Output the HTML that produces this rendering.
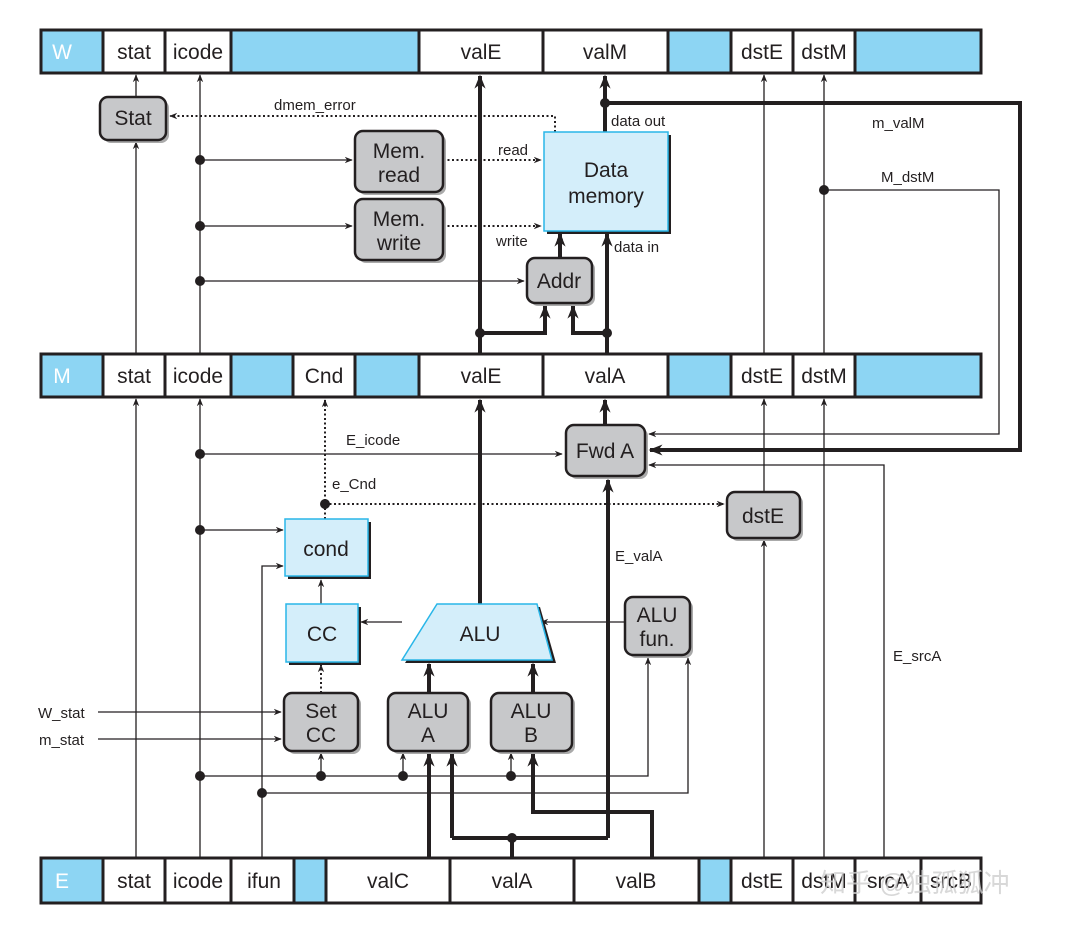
<!DOCTYPE html>
<html><head><meta charset="utf-8"><style>
body{margin:0;background:#fff}
svg text{font-family:"Liberation Sans",Arial,sans-serif;fill:#231f20}
</style></head><body>
<svg width="1084" height="926" viewBox="0 0 1084 926" xmlns="http://www.w3.org/2000/svg">
<defs>
<marker id="a" viewBox="0 0 10 10" refX="9" refY="5" markerWidth="8" markerHeight="8" markerUnits="userSpaceOnUse" orient="auto"><path d="M0,1 L10,5 L0,9 L3,5z" fill="#231f20"/></marker>
<marker id="b" viewBox="0 0 10 10" refX="9" refY="5" markerWidth="14" markerHeight="14" markerUnits="userSpaceOnUse" orient="auto"><path d="M0,1 L10,5 L0,9 L3,5z" fill="#231f20"/></marker>
</defs>
<g stroke="#231f20" stroke-width="3">
<!-- W register -->
<rect x="41" y="30" width="62" height="43" fill="#8dd5f3"/>
<rect x="103" y="30" width="62" height="43" fill="#fff"/>
<rect x="165" y="30" width="66" height="43" fill="#fff"/>
<rect x="231" y="30" width="188" height="43" fill="#8dd5f3"/>
<rect x="419" y="30" width="124" height="43" fill="#fff"/>
<rect x="543" y="30" width="125" height="43" fill="#fff"/>
<rect x="668" y="30" width="63" height="43" fill="#8dd5f3"/>
<rect x="731" y="30" width="62" height="43" fill="#fff"/>
<rect x="793" y="30" width="62" height="43" fill="#fff"/>
<rect x="855" y="30" width="126" height="43" fill="#8dd5f3"/>
<!-- M register -->
<rect x="41" y="354" width="62" height="43" fill="#8dd5f3"/>
<rect x="103" y="354" width="62" height="43" fill="#fff"/>
<rect x="165" y="354" width="66" height="43" fill="#fff"/>
<rect x="231" y="354" width="62" height="43" fill="#8dd5f3"/>
<rect x="293" y="354" width="62" height="43" fill="#fff"/>
<rect x="355" y="354" width="64" height="43" fill="#8dd5f3"/>
<rect x="419" y="354" width="124" height="43" fill="#fff"/>
<rect x="543" y="354" width="125" height="43" fill="#fff"/>
<rect x="668" y="354" width="63" height="43" fill="#8dd5f3"/>
<rect x="731" y="354" width="62" height="43" fill="#fff"/>
<rect x="793" y="354" width="62" height="43" fill="#fff"/>
<rect x="855" y="354" width="126" height="43" fill="#8dd5f3"/>
<!-- E register -->
<rect x="41" y="858" width="62" height="45" fill="#8dd5f3"/>
<rect x="103" y="858" width="62" height="45" fill="#fff"/>
<rect x="165" y="858" width="66" height="45" fill="#fff"/>
<rect x="231" y="858" width="63" height="45" fill="#fff"/>
<rect x="294" y="858" width="32" height="45" fill="#8dd5f3"/>
<rect x="326" y="858" width="124" height="45" fill="#fff"/>
<rect x="450" y="858" width="124" height="45" fill="#fff"/>
<rect x="574" y="858" width="125" height="45" fill="#fff"/>
<rect x="699" y="858" width="32" height="45" fill="#8dd5f3"/>
<rect x="731" y="858" width="62" height="45" fill="#fff"/>
<rect x="793" y="858" width="62" height="45" fill="#fff"/>
<rect x="855" y="858" width="66" height="45" fill="#fff"/>
<rect x="921" y="858" width="60" height="45" fill="#fff"/>
</g>
<g font-size="21" text-anchor="middle">
<text x="62" y="59" fill="#fff" style="fill:#fff">W</text><text x="134" y="59">stat</text><text x="198" y="59">icode</text><text x="481" y="59">valE</text><text x="605" y="59">valM</text><text x="762" y="59">dstE</text><text x="824" y="59">dstM</text>
<text x="62" y="383" style="fill:#fff">M</text><text x="134" y="383">stat</text><text x="198" y="383">icode</text><text x="324" y="383">Cnd</text><text x="481" y="383">valE</text><text x="605" y="383">valA</text><text x="762" y="383">dstE</text><text x="824" y="383">dstM</text>
<text x="62" y="888" style="fill:#fff">E</text><text x="134" y="888">stat</text><text x="198" y="888">icode</text><text x="264" y="888">ifun</text><text x="388" y="888">valC</text><text x="512" y="888">valA</text><text x="636" y="888">valB</text><text x="762" y="888">dstE</text><text x="824" y="888">dstM</text><text x="888" y="888">srcA</text><text x="951" y="888">srcB</text>
</g>
<!-- thin lines -->
<g stroke="#231f20" stroke-width="1.3" fill="none" marker-end="url(#a)">
<path d="M136,97 V75"/><path d="M136,354 V142"/><path d="M200,354 V75"/>
<path d="M200,160 H352"/><path d="M200,226 H352"/><path d="M200,281 H524"/>
<path d="M764,354 V75"/><path d="M824,354 V75"/>
<path d="M824,190 H999 V434 H649"/>
<path d="M136,858 V399"/><path d="M200,858 V399"/>
<path d="M200,454 H562"/><path d="M200,530 H283"/>
<path d="M262,858 V566 H283"/>
<path d="M764,858 V540"/><path d="M764,492 V399"/><path d="M824,858 V399"/>
<path d="M884,858 V465 H649"/>
<path d="M200,776 H648 V658"/><path d="M262,793 H688 V658"/>
<path d="M321,776 V753"/><path d="M403,776 V753"/><path d="M511,776 V753"/>
<path d="M98,712 H281"/><path d="M98,739 H281"/>
<path d="M321,604 V580"/><path d="M402,622 H361"/><path d="M625,622 H541"/>
<path d="M560,258 V233"/>
</g>
<!-- dotted -->
<g stroke="#231f20" stroke-width="2" fill="none" stroke-dasharray="2,2.5">
<path d="M555,132 V116 H170" marker-end="url(#a)"/>
<path d="M443,160 H541" marker-end="url(#a)"/>
<path d="M443,226 H541" marker-end="url(#a)"/>
<path d="M325,519 V400" marker-end="url(#a)"/>
<path d="M325,504 H724" marker-end="url(#a)"/>
<path d="M321,693 V665" marker-end="url(#a)"/>
</g>
<!-- thick lines -->
<g stroke="#231f20" stroke-width="4" fill="none">
<path d="M480,354 V76" marker-end="url(#b)"/>
<path d="M480,333 H545 V306" marker-end="url(#b)"/>
<path d="M607,354 V234" marker-end="url(#b)"/>
<path d="M607,333 H573 V306" marker-end="url(#b)"/>
<path d="M560,260 V234" marker-end="url(#b)"/>
<path d="M605,132 V76" marker-end="url(#b)"/>
<path d="M605,103 H1020 V450 H650" marker-end="url(#b)"/>
<path d="M605,425 V400" marker-end="url(#b)"/>
<path d="M480,604 V400" marker-end="url(#b)"/>
<path d="M512,858 V838 M452,838 H608"/>
<path d="M608,838 V480" marker-end="url(#b)"/>
<path d="M452,838 V754" marker-end="url(#b)"/>
<path d="M429,858 V754" marker-end="url(#b)"/>
<path d="M652,858 V812 H533 V754" marker-end="url(#b)"/>
<path d="M429,693 V664" marker-end="url(#b)"/>
<path d="M533,693 V664" marker-end="url(#b)"/>
</g>
<!-- dots -->
<g fill="#231f20">
<circle cx="200" cy="160" r="5"/><circle cx="200" cy="226" r="5"/><circle cx="200" cy="281" r="5"/>
<circle cx="480" cy="333" r="5"/><circle cx="607" cy="333" r="5"/><circle cx="605" cy="103" r="5"/>
<circle cx="824" cy="190" r="5"/><circle cx="200" cy="454" r="5"/><circle cx="200" cy="530" r="5"/>
<circle cx="325" cy="504" r="5"/><circle cx="200" cy="776" r="5"/><circle cx="321" cy="776" r="5"/>
<circle cx="403" cy="776" r="5"/><circle cx="511" cy="776" r="5"/><circle cx="262" cy="793" r="5"/>
<circle cx="512" cy="838" r="5"/>
</g>
<!-- gray boxes -->
<g stroke="#231f20" stroke-width="2.5" fill="#c7c8ca">
<rect x="103" y="100" width="66" height="43" rx="8" fill="#aaa" stroke="none"/>
<rect x="100" y="97" width="66" height="43" rx="8"/>
<rect x="358" y="134" width="88" height="61" rx="8" fill="#aaa" stroke="none"/>
<rect x="355" y="131" width="88" height="61" rx="8"/>
<rect x="358" y="202" width="88" height="61" rx="8" fill="#aaa" stroke="none"/>
<rect x="355" y="199" width="88" height="61" rx="8"/>
<rect x="530" y="261" width="65" height="45" rx="8" fill="#aaa" stroke="none"/>
<rect x="527" y="258" width="65" height="45" rx="8"/>
<rect x="569" y="428" width="79" height="51" rx="8" fill="#aaa" stroke="none"/>
<rect x="566" y="425" width="79" height="51" rx="8"/>
<rect x="730" y="495" width="73" height="46" rx="8" fill="#aaa" stroke="none"/>
<rect x="727" y="492" width="73" height="46" rx="8"/>
<rect x="628" y="600" width="65" height="58" rx="8" fill="#aaa" stroke="none"/>
<rect x="625" y="597" width="65" height="58" rx="8"/>
<rect x="287" y="696" width="74" height="58" rx="8" fill="#aaa" stroke="none"/>
<rect x="284" y="693" width="74" height="58" rx="8"/>
<rect x="391" y="696" width="80" height="58" rx="8" fill="#aaa" stroke="none"/>
<rect x="388" y="693" width="80" height="58" rx="8"/>
<rect x="494" y="696" width="81" height="58" rx="8" fill="#aaa" stroke="none"/>
<rect x="491" y="693" width="81" height="58" rx="8"/>
</g>
<!-- blue boxes -->
<rect x="547" y="135" width="124" height="99" fill="#231f20"/>
<rect x="544" y="132" width="124" height="99" fill="#d4eefa" stroke="#29b6e8" stroke-width="1.5"/>
<rect x="288" y="522" width="83" height="57" fill="#231f20"/>
<rect x="285" y="519" width="83" height="57" fill="#d4eefa" stroke="#29b6e8" stroke-width="1.5"/>
<rect x="289" y="607" width="72" height="58" fill="#231f20"/>
<rect x="286" y="604" width="72" height="58" fill="#d4eefa" stroke="#29b6e8" stroke-width="1.5"/>
<polygon points="440,607 540,607 556,663 405,663" fill="#231f20"/>
<polygon points="437,604 537,604 552,660 402,660" fill="#d4eefa" stroke="#29b6e8" stroke-width="1.5"/>
<g font-size="21" text-anchor="middle">
<text x="133" y="125">Stat</text>
<text x="399" y="158">Mem.</text><text x="399" y="182">read</text>
<text x="399" y="226">Mem.</text><text x="399" y="250">write</text>
<text x="559" y="288">Addr</text>
<text x="606" y="177">Data</text><text x="606" y="203">memory</text>
<text x="605" y="458">Fwd A</text>
<text x="763" y="523">dstE</text>
<text x="326" y="556">cond</text>
<text x="322" y="641">CC</text>
<text x="480" y="641">ALU</text>
<text x="657" y="622">ALU</text><text x="657" y="646">fun.</text>
<text x="321" y="718">Set</text><text x="321" y="742">CC</text>
<text x="428" y="718">ALU</text><text x="428" y="742">A</text>
<text x="531" y="718">ALU</text><text x="531" y="742">B</text>
</g>
<g font-size="15">
<text x="274" y="110">dmem_error</text>
<text x="498" y="155">read</text><text x="496" y="246">write</text>
<text x="611" y="126">data out</text><text x="614" y="252">data in</text>
<text x="872" y="128">m_valM</text><text x="881" y="182">M_dstM</text>
<text x="346" y="445">E_icode</text><text x="332" y="489">e_Cnd</text>
<text x="615" y="561">E_valA</text><text x="893" y="661">E_srcA</text>
<text x="38" y="718">W_stat</text><text x="39" y="745">m_stat</text>
</g>
<text x="820" y="892" font-size="26" style="fill:#cfcfcf;opacity:.8" font-family="Liberation Sans,'Noto Sans CJK SC',sans-serif">知乎 @独孤狐冲</text>
</svg>
</body></html>
